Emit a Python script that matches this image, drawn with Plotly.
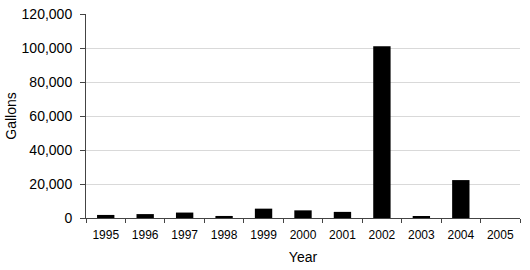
import plotly.graph_objects as go

years = ["1995", "1996", "1997", "1998", "1999", "2000", "2001", "2002", "2003", "2004", "2005"]
gallons = [1800, 2300, 3200, 1200, 5500, 4500, 3600, 101000, 600, 22300, 0]
y_ticks = [0, 20000, 40000, 60000, 80000, 100000, 120000]

fig = go.Figure(go.Bar(x=years, y=gallons, marker=dict(color="black", line=dict(width=0))))

fam = "Liberation Sans, Arial, sans-serif"
fig.update_layout(
    width=530, height=270,
    margin=dict(l=86, r=10, t=14, b=52),
    paper_bgcolor="white", plot_bgcolor="white",
    bargap=0.56,
    showlegend=False,
    font=dict(family=fam, color="black"),
)
fig.update_xaxes(
    type="category", automargin=False,
    showline=True, linecolor="#444", linewidth=1,
    ticks="outside", tickson="boundaries", ticklen=4, tickcolor="#444",
    tickfont=dict(size=12, family=fam, color="black"),
    ticklabelstandoff=6,
    title=dict(text="Year", font=dict(size=14, family=fam, color="black"), standoff=10),
    showgrid=False,
)
fig.update_yaxes(
    range=[0, 120000], automargin="left",
    tickvals=y_ticks,
    tickformat=",d",
    showline=True, linecolor="#444", linewidth=1,
    ticks="outside", ticklen=5, tickcolor="#444",
    tickfont=dict(size=14, family=fam, color="black"),
    ticklabelstandoff=5,
    showgrid=True, gridcolor="#d9d9d9", gridwidth=1,
    zeroline=False,
    title=dict(text="Gallons", font=dict(size=14, family=fam, color="black"), standoff=1),
)
fig.write_html("out.html")
